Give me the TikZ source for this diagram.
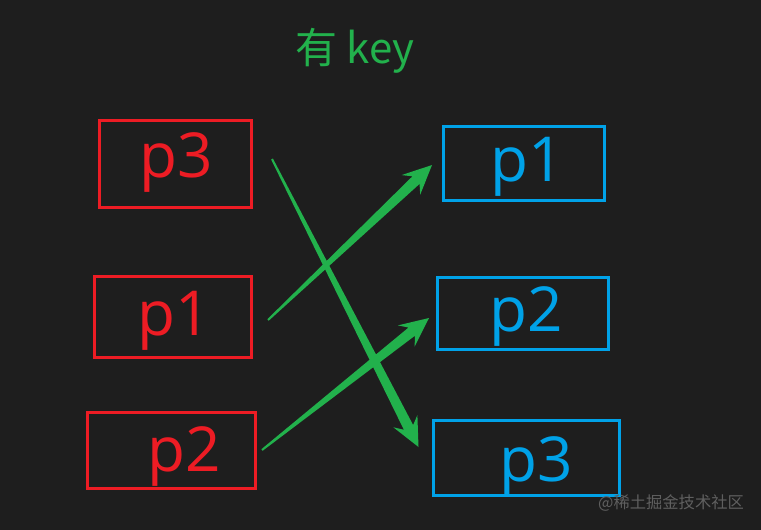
\documentclass[tikz,border=0pt]{standalone}
\usepackage{fontspec}
\setmainfont{Open Sans}
\newfontfamily\cjk{Noto Sans CJK SC}
\usetikzlibrary{calc}
\definecolor{bgc}{RGB}{30,30,30}
\definecolor{redc}{RGB}{237,28,36}
\definecolor{bluec}{RGB}{0,162,232}
\definecolor{greenc}{RGB}{34,177,76}
\definecolor{wmark}{RGB}{95,95,95}
\tikzset{
  redbox/.style={draw=redc, line width=3.2pt, minimum width=#1, inner sep=0pt},
  bluebox/.style={draw=bluec, line width=3.2pt, minimum width=#1, inner sep=0pt},
  redtxt/.style={text=redc, inner sep=0pt, anchor=base, font=\fontsize{62}{70}\selectfont},
  bluetxt/.style={text=bluec, inner sep=0pt, anchor=base, font=\fontsize{62}{70}\selectfont},
}
\newcommand\tarrow[3]{%
  \coordinate (#1b) at ($(#3)!22pt!(#2)$);
  \coordinate (#1w) at ($(#3)!29pt!(#2)$);
  \fill[greenc] ($(#2)!1pt!90:(#3)$) -- ($(#1b)!5.2pt!90:(#3)$) -- ($(#1w)!13.5pt!90:(#3)$)
    -- (#3) -- ($(#1w)!13.5pt!-90:(#3)$) -- ($(#1b)!5.2pt!-90:(#3)$) -- ($(#2)!1pt!-90:(#3)$) -- cycle;}
\begin{document}
\begin{tikzpicture}[x=1pt,y=-1pt]
\fill[bgc] (0,0) rectangle (761,530);
\useasboundingbox (0,0) rectangle (761,530);
% title
\node[text=greenc, inner sep=0pt, anchor=base, font=\cjk\fontsize{42}{50}\selectfont] (title) at (355,63) {有 key};
% left boxes
\node[redbox=152pt, minimum height=87pt] (L3) at (175.5,164) {};
\node[redbox=157pt, minimum height=81pt] (L1) at (173,317) {};
\node[redbox=168pt, minimum height=76pt] (L2) at (171.5,450.5) {};
\node[redtxt] (L3t) at (176.5,177) {p3};
\node[redtxt] (L1t) at (174.5,335) {p1};
\node[redtxt] (L2t) at (184.5,471) {p2};
% right boxes
\node[bluebox=161pt, minimum height=74pt] (R1) at (524,163.5) {};
\node[bluebox=171pt, minimum height=72pt] (R2) at (523,313.5) {};
\node[bluebox=186pt, minimum height=75pt] (R3) at (526.5,458) {};
\node[bluetxt] (R1t) at (527.5,181) {p1};
\node[bluetxt] (R2t) at (526,331) {p2};
\node[bluetxt] (R3t) at (536,481) {p3};
% arrows
\coordinate (a1s) at (268,320);
\coordinate (a1t) at (432,165);
\coordinate (a2s) at (272,159);
\coordinate (a2t) at (418.5,447);
\coordinate (a3s) at (262,450);
\coordinate (a3t) at (429,318);
\tarrow{a1}{a1s}{a1t}
\tarrow{a2}{a2s}{a2t}
\tarrow{a3}{a3s}{a3t}
% watermark
\node[text=wmark, inner sep=0pt, font=\cjk\fontsize{16.3}{20}\selectfont] (wm) at (671,503) {@稀土掘金技术社区};
\end{tikzpicture}
\end{document}
